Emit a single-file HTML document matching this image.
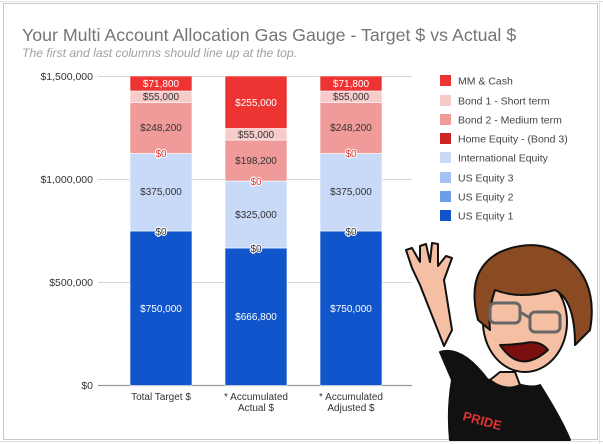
<!DOCTYPE html>
<html><head><meta charset="utf-8"><style>
html,body{margin:0;padding:0;background:#fff;width:603px;height:444px;overflow:hidden}
svg{display:block}
text{font-family:"Liberation Sans",Arial,sans-serif}
</style></head><body>
<svg width="603" height="444" viewBox="0 0 603 444">
<g stroke="#e2e2e2" stroke-width="1">
<line x1="0" y1="1.5" x2="603" y2="1.5"/>
<line x1="0" y1="441.5" x2="603" y2="441.5"/>
<line x1="599.5" y1="0" x2="599.5" y2="444"/>
</g>
<rect x="3.5" y="3.5" width="594" height="436" fill="#fff" stroke="#c8c8c8"/>
<text x="22" y="41" font-size="17.8" fill="#757575">Your Multi Account Allocation Gas Gauge - Target $ vs Actual $</text>
<text x="22" y="57" font-size="12.2" fill="#a0a0a0" font-style="italic">The first and last columns should line up at the top.</text>
<g stroke="#d6d6d6" stroke-width="1">
<line x1="98" y1="76.5" x2="412" y2="76.5"/>
<line x1="98" y1="179.5" x2="412" y2="179.5"/>
<line x1="98" y1="282.5" x2="412" y2="282.5"/>
</g>
<line x1="98" y1="385.5" x2="412" y2="385.5" stroke="#999" stroke-width="1.2"/>
<g font-size="10.5" fill="#333" text-anchor="end">
<text x="93" y="80">$1,500,000</text>
<text x="93" y="183">$1,000,000</text>
<text x="93" y="286">$500,000</text>
<text x="93" y="389">$0</text>
</g>
<g stroke="#fff" stroke-width="0.6">
<rect x="130" y="231" width="62" height="154.5" fill="#1155cc"/>
<rect x="130" y="153.5" width="62" height="77.5" fill="#c9daf8"/>
<rect x="130" y="102.5" width="62" height="51" fill="#f09a9a"/>
<rect x="130" y="91" width="62" height="11.5" fill="#f8cbcb"/>
<rect x="130" y="76" width="62" height="15" fill="#ee3333"/>
<rect x="225" y="248" width="62" height="137.5" fill="#1155cc"/>
<rect x="225" y="181" width="62" height="67" fill="#c9daf8"/>
<rect x="225" y="140" width="62" height="41" fill="#f09a9a"/>
<rect x="225" y="128.5" width="62" height="11.5" fill="#f8cbcb"/>
<rect x="225" y="76" width="62" height="52.5" fill="#ee3333"/>
<rect x="320" y="231" width="62" height="154.5" fill="#1155cc"/>
<rect x="320" y="153.5" width="62" height="77.5" fill="#c9daf8"/>
<rect x="320" y="102.5" width="62" height="51" fill="#f09a9a"/>
<rect x="320" y="91" width="62" height="11.5" fill="#f8cbcb"/>
<rect x="320" y="76" width="62" height="15" fill="#ee3333"/>
</g>
<g font-size="10" text-anchor="middle">
<text x="161" y="312" fill="#fff">$750,000</text>
<text x="161" y="195" fill="#333">$375,000</text>
<text x="161" y="131" fill="#333">$248,200</text>
<text x="161" y="100" fill="#333">$55,000</text>
<text x="161" y="87" fill="#fff">$71,800</text>
<text x="256" y="320" fill="#fff">$666,800</text>
<text x="256" y="218" fill="#333">$325,000</text>
<text x="256" y="164" fill="#333">$198,200</text>
<text x="256" y="138" fill="#333">$55,000</text>
<text x="256" y="106" fill="#fff">$255,000</text>
<text x="351" y="312" fill="#fff">$750,000</text>
<text x="351" y="195" fill="#333">$375,000</text>
<text x="351" y="131" fill="#333">$248,200</text>
<text x="351" y="100" fill="#333">$55,000</text>
<text x="351" y="87" fill="#fff">$71,800</text>
<g stroke="#fff" stroke-width="2" paint-order="stroke" fill="#333">
<text x="161" y="235">$0</text>
<text x="256" y="252">$0</text>
<text x="351" y="235">$0</text>
</g>
<g stroke="#fff" stroke-width="2" paint-order="stroke" fill="#e03030">
<text x="161" y="157">$0</text>
<text x="256" y="185">$0</text>
<text x="351" y="157">$0</text>
</g>
</g>
<g font-size="10" fill="#333" text-anchor="middle">
<text x="161" y="400">Total Target $</text>
<text x="256" y="400">* Accumulated</text>
<text x="256" y="411">Actual $</text>
<text x="351" y="400">* Accumulated</text>
<text x="351" y="411">Adjusted $</text>
</g>
<g font-size="10.5" fill="#444">
<rect x="440" y="75" width="11" height="11" fill="#ee3333"/><text x="458" y="84.5">MM &amp; Cash</text>
<rect x="440" y="95" width="11" height="11" fill="#f8cbcb"/><text x="458" y="104.5">Bond 1 - Short term</text>
<rect x="440" y="114" width="11" height="11" fill="#f09a9a"/><text x="458" y="123.5">Bond 2 - Medium term</text>
<rect x="440" y="133" width="11" height="11" fill="#cc2222"/><text x="458" y="142.5">Home Equity - (Bond 3)</text>
<rect x="440" y="152" width="11" height="11" fill="#c9daf8"/><text x="458" y="161.5">International Equity</text>
<rect x="440" y="172" width="11" height="11" fill="#a4c2f4"/><text x="458" y="181.5">US Equity 3</text>
<rect x="440" y="191" width="11" height="11" fill="#6d9eeb"/><text x="458" y="200.5">US Equity 2</text>
<rect x="440" y="210" width="11" height="11" fill="#1155cc"/><text x="458" y="219.5">US Equity 1</text>
</g>
<g stroke="#111" stroke-width="2" stroke-linejoin="round">
<path d="M444 346 L420 285 L412 268 L406 250 L412 248 L420 262 L420 246 L426 244 L430 262 L432 243 L438 244 L438 266 L446 256 L452 258 L444 280 L452 330 Z" fill="#f5bfa4"/>
<path d="M440 352 Q462 345 488 380 L500 378 Q530 390 540 385 Q562 420 570 440 L450 440 Q447 410 452 380 Z" fill="#111"/>
<path d="M490 380 L500 372 L515 372 L520 385 Q505 392 490 380 Z" fill="#f5bfa4"/>
<ellipse cx="525" cy="322" rx="42" ry="50" fill="#f5bfa4"/>
<path d="M478 320 Q465 270 500 252 Q540 235 570 260 Q598 285 590 330 L575 345 Q575 300 555 290 Q520 300 495 290 Q488 310 490 330 Z" fill="#8a4a22"/>
<path d="M500 345 Q520 375 548 350 Q540 340 525 343 Q510 345 500 345 Z" fill="#7a0f0f"/>
</g>
<g fill="none" stroke="#666" stroke-width="3">
<rect x="490" y="303" width="30" height="20" rx="5"/>
<rect x="530" y="312" width="30" height="20" rx="5"/>
<line x1="520" y1="312" x2="530" y2="318"/>
</g>
<text x="462" y="420" font-size="13" font-weight="bold" fill="#d33" transform="rotate(15 462 420)">PRIDE</text>
</svg>
</body></html>
